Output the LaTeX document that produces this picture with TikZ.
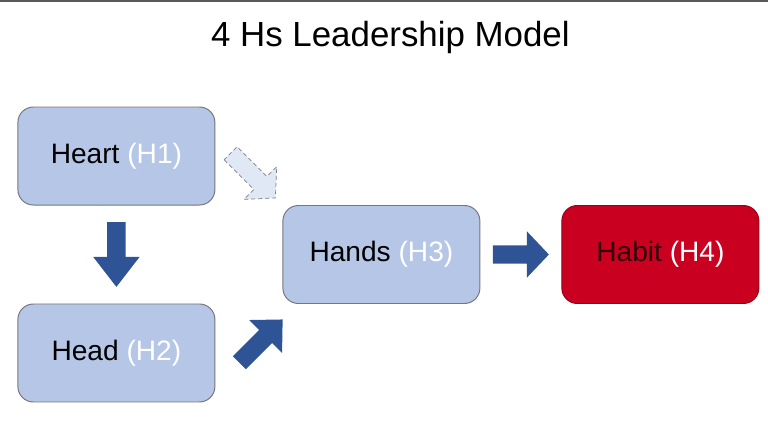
\documentclass[tikz,border=0pt]{standalone}
\usepackage{fontspec}
\setmainfont{Liberation Sans}
\usepackage{tikz}
\usetikzlibrary{positioning, calc}
\definecolor{boxblue}{RGB}{181,198,231}
\definecolor{boxedge}{RGB}{118,118,128}
\definecolor{arrowblue}{RGB}{47,84,150}
\definecolor{paleblue}{RGB}{224,231,245}
\definecolor{habitred}{RGB}{201,0,32}
\definecolor{habitink}{RGB}{48,0,10}
\newcommand{\hcode}[1]{\textcolor{white}{(#1)}}

\tikzset{
  hbox/.style={draw=boxedge, line width=0.7pt, fill=boxblue, rounded corners=11pt,
    minimum width=4.925cm, minimum height=2.45cm, font=\fontsize{20}{24}\selectfont},
  pics/blockarrow/.style args={#1/#2}{code={
    \path[pic actions] (-#1/2,-0.23) -- (#1/2-#2,-0.23) -- (#1/2-#2,-0.58)
      -- (#1/2,0) -- (#1/2-#2,0.58) -- (#1/2-#2,0.23) -- (-#1/2,0.23) -- cycle;}}
}

\begin{document}
\begin{tikzpicture}
  \useasboundingbox (0,0) rectangle (19.2,-10.725);
  % screen edge at the top
  \fill[black!65] (0,0) rectangle (19.2,-0.05);

  \node[anchor=base, font=\fontsize{24.8}{29}\selectfont] (title) at (9.76,-1.17)
    {4 Hs Leadership Model};

  % the four Hs
  \node[hbox] (heart) at (2.91,-3.9) {Heart \hcode{H1}};
  \node[hbox, below=2.45cm of heart] (head) {Head \hcode{H2}};
  \coordinate (mid) at ($(heart.east)!0.5!(head.east)$);
  \node[hbox, right=1.675cm of mid] (hands) {Hands \hcode{H3}};
  \node[hbox, right=2.025cm of hands, draw=habitred!75!black, fill=habitred,
        text=habitink] (habit) {Habit \hcode{H4}};

  % block arrows
  \pic[rotate=-90, fill=arrowblue] at ($(heart.south)!0.5!(head.north)$)
    {blockarrow=1.62/0.75};
  \pic[rotate=45, fill=arrowblue] at ($(head.north east)+(1.14,-0.94)$)
    {blockarrow=1.53/0.6};
  \pic[rotate=-45, fill=paleblue, draw=gray, densely dashed, line width=0.5pt]
    at ($(heart.east)+(0.94,-0.49)$) {blockarrow=1.58/0.53};
  \pic[fill=arrowblue] at ($(hands.east)!0.5!(habit.west)$) {blockarrow=1.4/0.55};
\end{tikzpicture}
\end{document}
